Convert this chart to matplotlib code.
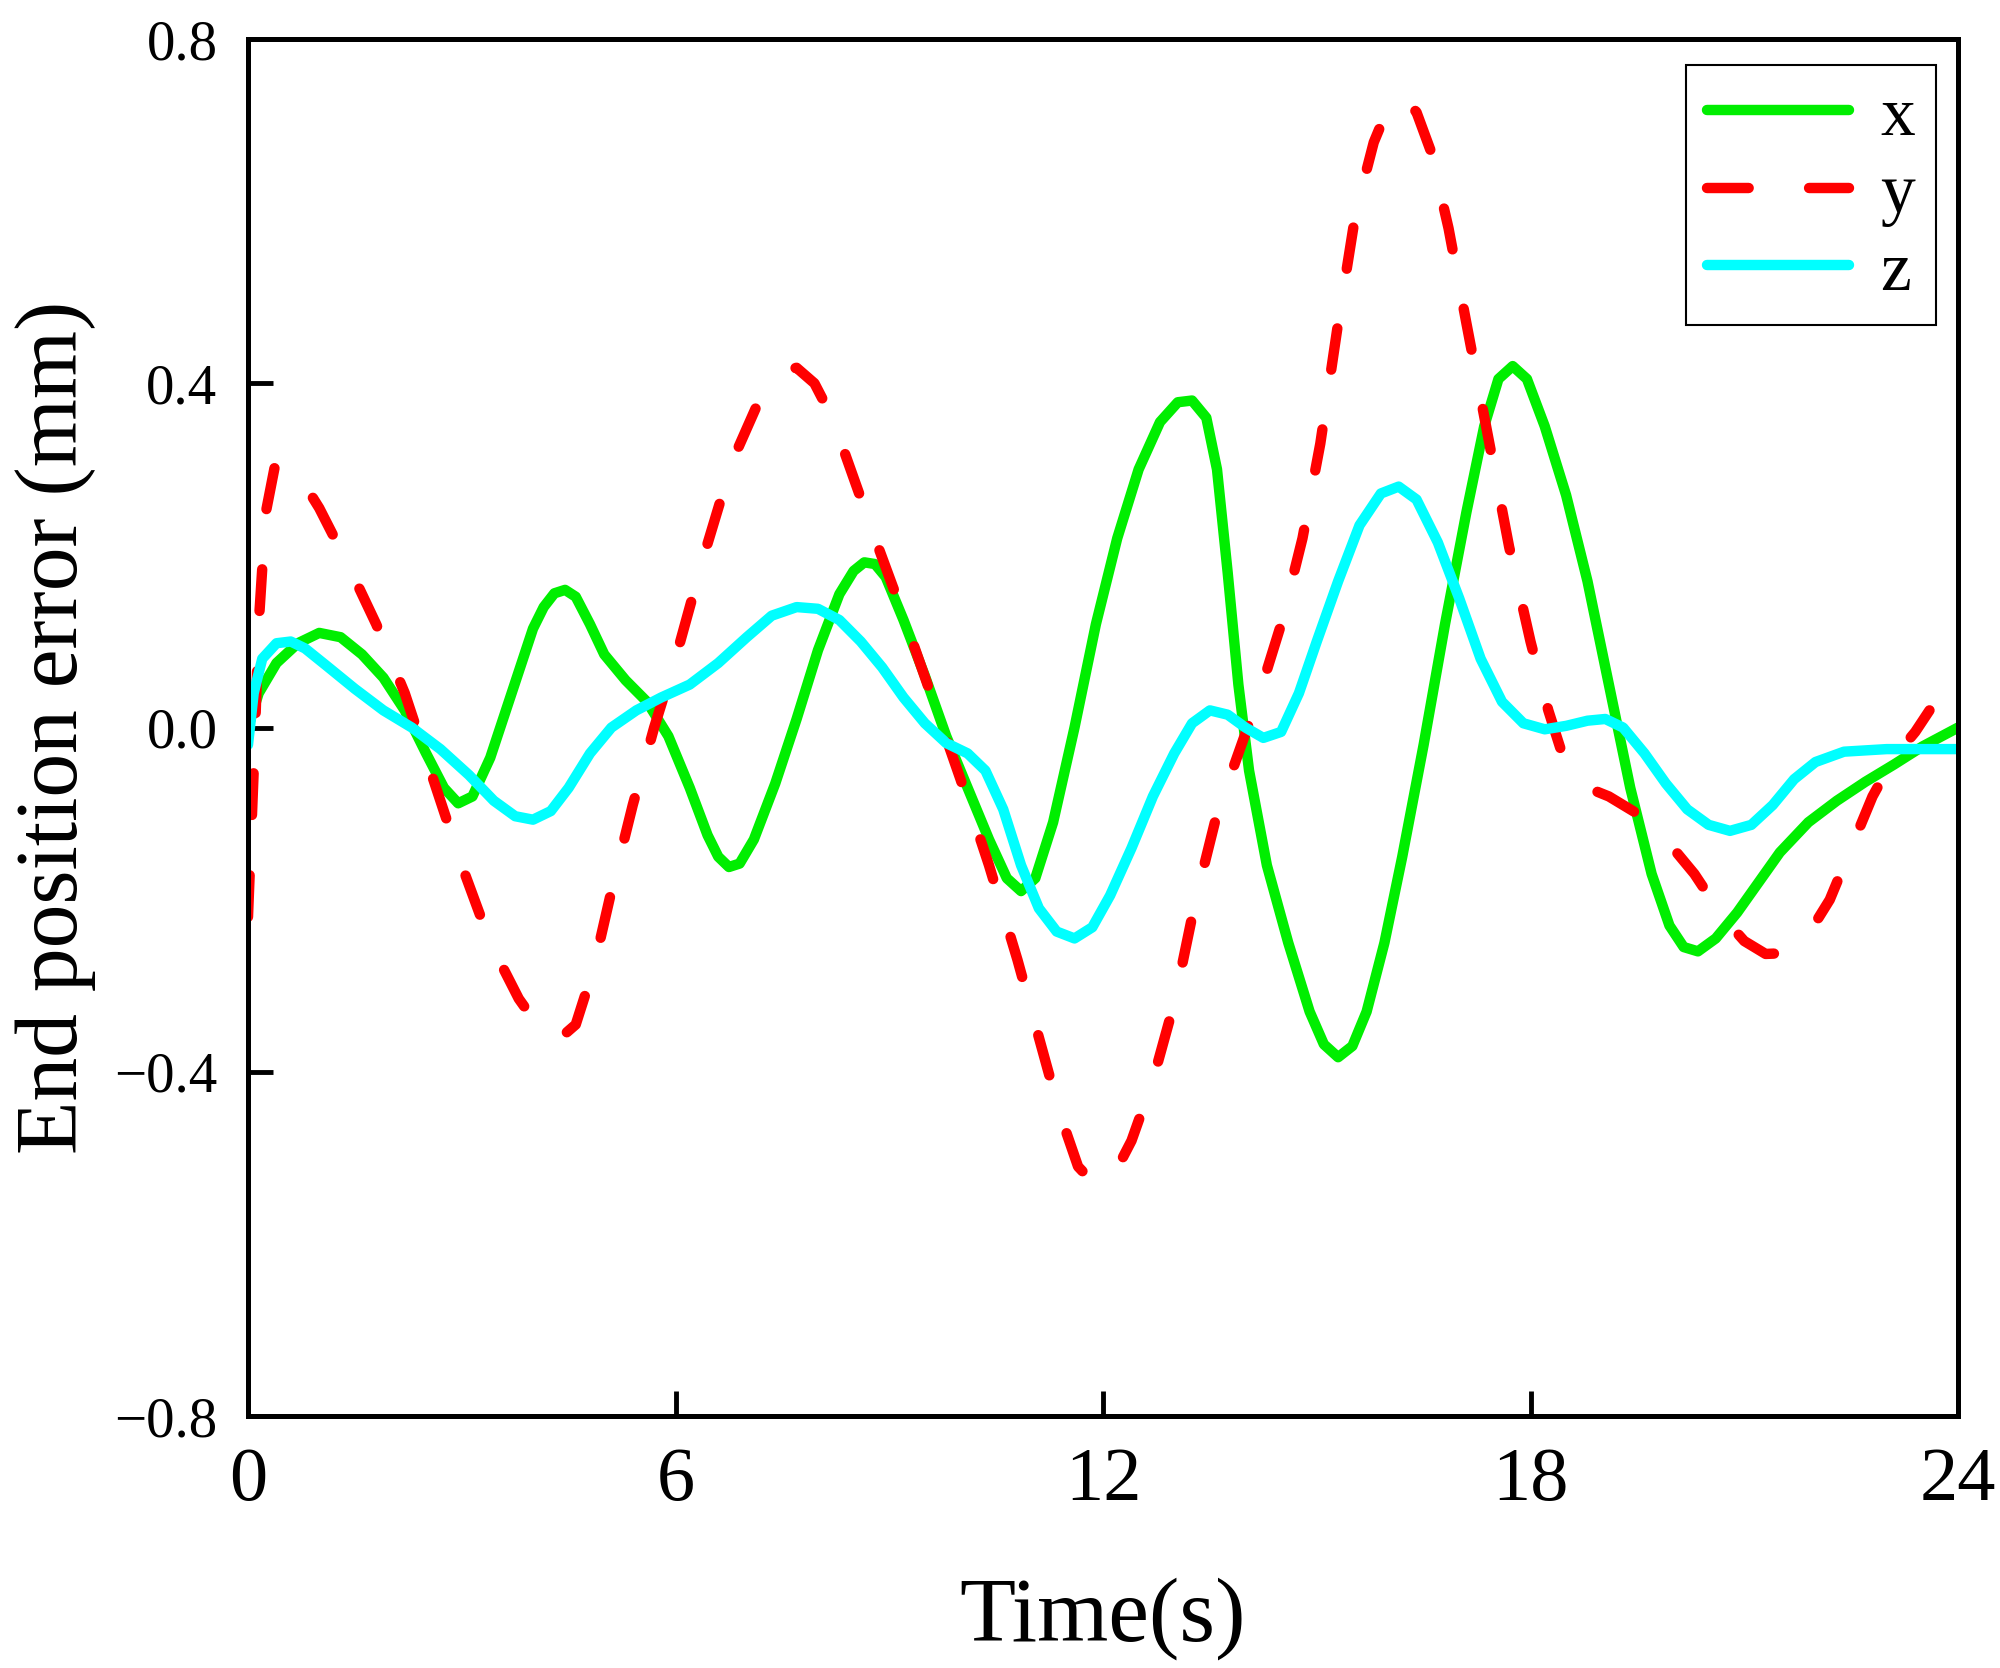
import matplotlib
matplotlib.use("Agg")
import matplotlib.pyplot as plt

plt.rcParams['font.family'] = ['Liberation Serif', 'DejaVu Serif']

# x error (green)
t_x = [0.0, 0.15, 0.4, 0.7, 1.0, 1.3, 1.6, 1.9, 2.2, 2.5, 2.75, 2.95, 3.15, 3.4, 3.7,
       4.0, 4.15, 4.3, 4.45, 4.6, 4.8, 5.0, 5.3, 5.6, 5.9, 6.2, 6.45, 6.6, 6.75, 6.9,
       7.1, 7.4, 7.7, 8.0, 8.3, 8.5, 8.65, 8.8, 8.95, 9.2, 9.5, 9.8, 10.1, 10.4, 10.65,
       10.85, 11.05, 11.3, 11.6, 11.9, 12.2, 12.5, 12.8, 13.05, 13.25, 13.45, 13.6,
       13.75, 13.9, 14.05, 14.3, 14.6, 14.9, 15.1, 15.3, 15.5, 15.7, 15.95, 16.2, 16.5,
       16.8, 17.1, 17.35, 17.55, 17.75, 17.95, 18.2, 18.5, 18.8, 19.1, 19.4, 19.7, 19.95,
       20.15, 20.35, 20.6, 20.9, 21.2, 21.5, 21.9, 22.3, 22.7, 23.1, 23.5, 24.0]
err_x = [0.0, 0.04, 0.075, 0.098, 0.11, 0.105, 0.085, 0.058, 0.02, -0.03, -0.07, -0.088,
         -0.08, -0.035, 0.04, 0.115, 0.14, 0.156, 0.16, 0.152, 0.12, 0.085, 0.055, 0.03,
         -0.01, -0.07, -0.125, -0.15, -0.162, -0.158, -0.13, -0.065, 0.01, 0.09, 0.155,
         0.182, 0.192, 0.19, 0.175, 0.125, 0.06, -0.01, -0.07, -0.13, -0.175, -0.19,
         -0.175, -0.11, 0.0, 0.12, 0.22, 0.30, 0.355, 0.378, 0.38, 0.36, 0.30, 0.18, 0.05,
         -0.05, -0.16, -0.25, -0.33, -0.368, -0.383, -0.37, -0.33, -0.25, -0.15, -0.02,
         0.12, 0.25, 0.35, 0.405, 0.42, 0.405, 0.35, 0.27, 0.17, 0.05, -0.07, -0.17, -0.23,
         -0.255, -0.26, -0.245, -0.215, -0.18, -0.145, -0.11, -0.085, -0.063, -0.043,
         -0.022, 0.0]

# y error (red dashed)
t_y = [0.0, 0.08, 0.15, 0.25, 0.38, 0.5, 0.7, 1.0, 1.4, 1.8, 2.2, 2.6, 3.0, 3.4, 3.8,
       4.1, 4.35, 4.6, 4.85, 5.1, 5.4, 5.7, 6.0, 6.4, 6.8, 7.2, 7.5, 7.7, 7.95, 8.2, 8.5,
       8.8, 9.2, 9.6, 10.0, 10.4, 10.8, 11.1, 11.4, 11.65, 11.9, 12.15, 12.4, 12.7, 13.0,
       13.3, 13.6, 13.9, 14.2, 14.5, 14.8, 15.05, 15.3, 15.55, 15.8, 16.0, 16.2, 16.4,
       16.6, 16.85, 17.1, 17.4, 17.7, 18.0, 18.25, 18.5, 18.8, 19.1, 19.5, 19.9, 20.3,
       20.7, 21.0, 21.3, 21.6, 21.9, 22.2, 22.5, 22.8, 23.1, 23.4, 23.6]
err_y = [-0.22, -0.05, 0.12, 0.25, 0.305, 0.31, 0.295, 0.255, 0.19, 0.12, 0.04, -0.06,
         -0.16, -0.25, -0.315, -0.35, -0.363, -0.345, -0.28, -0.19, -0.09, 0.0, 0.08,
         0.20, 0.31, 0.385, 0.415, 0.418, 0.40, 0.36, 0.29, 0.22, 0.13, 0.035, -0.06,
         -0.16, -0.27, -0.36, -0.45, -0.51, -0.532, -0.52, -0.48, -0.41, -0.32, -0.20,
         -0.10, -0.03, 0.04, 0.12, 0.22, 0.33, 0.47, 0.60, 0.68, 0.72, 0.733, 0.715, 0.67,
         0.58, 0.47, 0.34, 0.21, 0.10, 0.02, -0.045, -0.07, -0.08, -0.10, -0.13, -0.17,
         -0.22, -0.248, -0.263, -0.262, -0.24, -0.20, -0.14, -0.08, -0.035, -0.005, 0.02]

# z error (cyan)
t_z = [0.0, 0.08, 0.2, 0.4, 0.6, 0.8, 1.1, 1.5, 1.9, 2.3, 2.7, 3.1, 3.45, 3.75, 4.0,
       4.25, 4.5, 4.8, 5.1, 5.45, 5.8, 6.2, 6.6, 7.0, 7.35, 7.7, 8.0, 8.3, 8.6, 8.9, 9.2,
       9.5, 9.8, 10.1, 10.35, 10.6, 10.85, 11.1, 11.35, 11.6, 11.85, 12.1, 12.4, 12.7,
       13.0, 13.25, 13.5, 13.75, 14.0, 14.25, 14.5, 14.75, 15.0, 15.3, 15.6, 15.9, 16.15,
       16.4, 16.7, 17.0, 17.3, 17.6, 17.9, 18.2, 18.5, 18.8, 19.05, 19.3, 19.6, 19.9,
       20.2, 20.5, 20.8, 21.1, 21.4, 21.7, 22.0, 22.4, 23.0, 24.0]
err_z = [-0.02, 0.04, 0.08, 0.098, 0.10, 0.092, 0.072, 0.045, 0.02, 0.0, -0.025, -0.055,
         -0.085, -0.103, -0.107, -0.097, -0.07, -0.03, 0.0, 0.02, 0.035, 0.05, 0.075,
         0.105, 0.13, 0.14, 0.138, 0.125, 0.10, 0.07, 0.035, 0.005, -0.018, -0.03, -0.05,
         -0.095, -0.16, -0.21, -0.237, -0.245, -0.232, -0.195, -0.14, -0.08, -0.03, 0.005,
         0.02, 0.015, 0.0, -0.012, -0.005, 0.04, 0.10, 0.17, 0.235, 0.272, 0.28, 0.265,
         0.215, 0.15, 0.08, 0.03, 0.005, -0.002, 0.002, 0.008, 0.01, 0.0, -0.03, -0.065,
         -0.095, -0.113, -0.12, -0.113, -0.09, -0.06, -0.04, -0.028, -0.025, -0.025]

x_ticks = [0, 6, 12, 18, 24]
y_ticks = [-0.8, -0.4, 0.0, 0.4, 0.8]
y_tick_labels = ['\u22120.8', '\u22120.4', '0.0', '0.4', '0.8']

fig = plt.figure(figsize=(20, 16.68), dpi=100)
ax = fig.add_axes([0.124, 0.151, 0.855, 0.8256])

lw = 7.5
ax.plot(t_x, err_x, color='#00ee00', lw=lw, label='x',
        solid_capstyle='round', solid_joinstyle='round')
ax.plot(t_y, err_y, color='#ff0000', lw=lw, label='y', dashes=(4, 5.8),
        dash_capstyle='round', dash_joinstyle='round')
ax.plot(t_z, err_z, color='#00ffff', lw=lw, label='z',
        solid_capstyle='round', solid_joinstyle='round')

ax.set_xlim(0, 24)
ax.set_ylim(-0.8, 0.8)
ax.set_xticks(x_ticks)
ax.set_yticks(y_ticks)
ax.set_xticklabels([str(v) for v in x_ticks])
ax.set_yticklabels(y_tick_labels)
ax.tick_params(direction='in', length=18, width=3.5, top=False, right=False)
ax.tick_params(axis='x', labelsize=55, pad=22)
ax.tick_params(axis='y', labelsize=41, pad=22)
for s in ax.spines.values():
    s.set_linewidth(3.6)

ax.set_xlabel('Time(s)', fontsize=66, labelpad=44)
ax.set_ylabel('End position error (mm)', fontsize=63)
ax.yaxis.set_label_coords(-0.089, 0.5)

leg = ax.legend(loc='upper right', fontsize=50, handlelength=2.05,
                handletextpad=0.45, labelspacing=0.2, borderpad=0.3,
                borderaxespad=0.0, fancybox=False, framealpha=1,
                edgecolor='black', bbox_to_anchor=(0.987, 0.981))
leg.get_frame().set_linewidth(1.5)

fig.savefig('out.png', dpi=100)
